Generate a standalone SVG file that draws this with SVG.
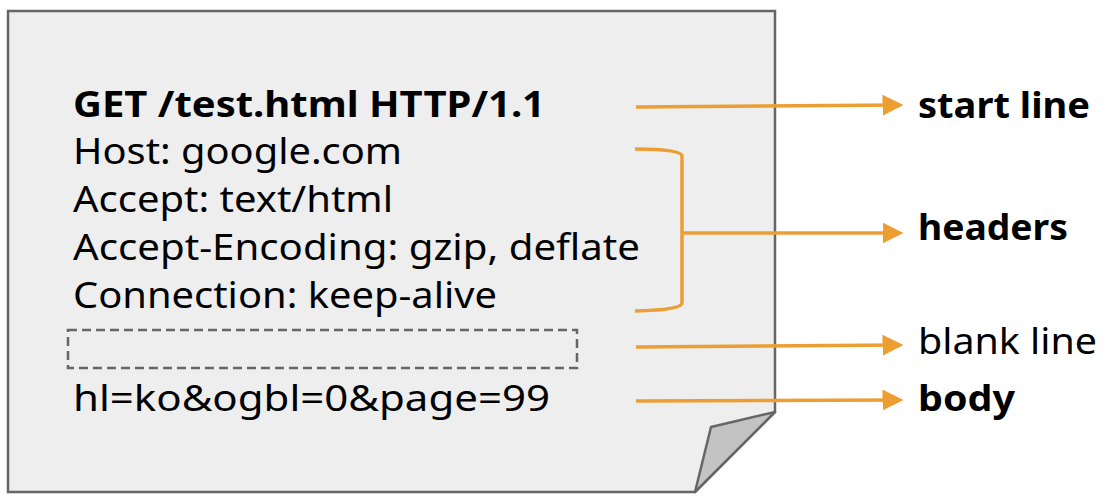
<svg xmlns="http://www.w3.org/2000/svg" width="1116" height="502" viewBox="0 0 1116 502">
<style>
.t{font-family:"Noto Sans","Open Sans","DejaVu Sans",sans-serif;font-size:36px;fill:#000}
.b{font-weight:bold}
.c{fill:none;stroke:#ED9E33;stroke-width:3.5}
</style>
<defs>
<marker id="ah" markerWidth="6" markerHeight="6" refX="5" refY="3" orient="auto" markerUnits="strokeWidth" viewBox="0 0 6 6">
<path d="M0,0 L6,3 L0,6 Z" fill="#ED9E33"/>
</marker>
</defs>
<rect width="1116" height="502" fill="#fff"/>
<g id="page">
<path d="M8,11 H775 V412 L695,492 H8 Z" fill="#eeeeee" stroke="#666" stroke-width="2.5" stroke-linejoin="miter"/>
<path d="M775,412 L711,427 L695,492 Z" fill="#c3c3c3" stroke="#666" stroke-width="2.5" stroke-linejoin="round"/>
</g>
<g id="message">
<text class="t b" x="73" y="117" textLength="472" lengthAdjust="spacingAndGlyphs">GET /test.html HTTP/1.1</text>
<text class="t" x="73" y="164" textLength="329" lengthAdjust="spacingAndGlyphs">Host: google.com</text>
<text class="t" x="73" y="212" textLength="320" lengthAdjust="spacingAndGlyphs">Accept: text/html</text>
<text class="t" x="73" y="260" textLength="567" lengthAdjust="spacingAndGlyphs">Accept-Encoding: gzip, deflate</text>
<text class="t" x="73" y="308" textLength="424" lengthAdjust="spacingAndGlyphs">Connection: keep-alive</text>
<rect x="68" y="330" width="509" height="38" fill="none" stroke="#666" stroke-width="2.5" stroke-dasharray="9,5"/>
<text class="t" x="73" y="411" textLength="477" lengthAdjust="spacingAndGlyphs">hl=ko&amp;ogbl=0&amp;page=99</text>
</g>
<g id="connectors">
<path class="c" d="M636,107 L900,105" marker-end="url(#ah)"/>
<path class="c" d="M635,149 Q682,149 682,156 V303 Q682,310 635,311"/>
<path class="c" d="M682,233 L900,233" marker-end="url(#ah)"/>
<path class="c" d="M636,347 L900,345" marker-end="url(#ah)"/>
<path class="c" d="M636,401 L900,400" marker-end="url(#ah)"/>
</g>
<g id="labels">
<text class="t b" x="918" y="118" textLength="172" lengthAdjust="spacingAndGlyphs">start line</text>
<text class="t b" x="918" y="240" textLength="150" lengthAdjust="spacingAndGlyphs">headers</text>
<text class="t" x="918" y="354" textLength="179" lengthAdjust="spacingAndGlyphs">blank line</text>
<text class="t b" x="918" y="411" textLength="97" lengthAdjust="spacingAndGlyphs">body</text>
</g>
</svg>
